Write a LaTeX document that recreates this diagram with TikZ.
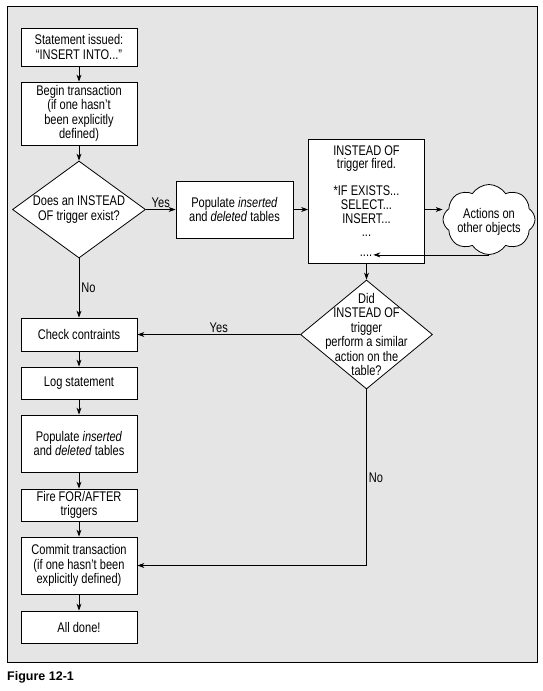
\documentclass[tikz,border=0pt]{standalone}
\usepackage{fontspec}
\setmainfont[FakeStretch=0.79]{Liberation Sans}
\newfontfamily\figfont{Liberation Sans}
\usetikzlibrary{shapes.geometric,shapes.symbols,arrows.meta}
\definecolor{bgc}{RGB}{229,229,229}
\newcommand\dtxt{\fontsize{14}{14.5}\selectfont}
\tikzset{
  box/.style={draw, fill=white, line width=0.8pt, minimum width=116pt, minimum height=#1, inner sep=0pt, align=center, font=\dtxt},
  dia/.style={draw, fill=white, diamond, line width=0.8pt, inner sep=0pt},
  lbl/.style={align=center, font=\dtxt, inner sep=1pt},
  arr/.style={-{Stealth[length=7pt,width=5pt]}, line width=0.8pt},
}
\begin{document}
\begin{tikzpicture}[x=1pt,y=-1pt]
\useasboundingbox (0,0) rectangle (543,691);
\draw[fill=bgc, line width=0.9pt] (7,6) rectangle (537,662);

% left column
\node[box=38pt] (b1) at (79,47) {Statement issued:\\“INSERT INTO...”};
\node[box=63pt] (b2) at (79,113.5) {Begin transaction\\(if one hasn't\\been explicitly\\defined)};
\node[dia, minimum width=133pt, minimum height=97pt] (d1) at (79,209.5) {};
\node[lbl] (d1t) at (d1.center) {Does an INSTEAD\\OF trigger exist?};
\node[box=57pt, minimum width=117pt] (p1) at (234.5,209.5) {Populate \textit{inserted}\\and \textit{deleted} tables};

\node[box=124pt] (ins) at (366.5,201) {};
\node[lbl, font=\fontsize{14}{13.6}\selectfont] (inst) at (366.5,191) {INSTEAD OF\\trigger fired.\\ \\*IF EXISTS...\\SELECT...\\INSERT...\\...};
\node[lbl, anchor=base] (dots) at (366,256) {....};

\node[cloud, draw, fill=white, line width=0.8pt, cloud puffs=8, cloud puff arc=115, aspect=1.26, minimum width=92pt, minimum height=70pt, inner sep=0pt] (cl) at (489,219.5) {};
\node[lbl] (clt) at (489,222) {Actions on\\other objects};

\node[dia, minimum width=132pt, minimum height=109pt] (d2) at (366.5,334.5) {};
\node[lbl] (d2t) at (d2.center) {Did\\INSTEAD OF\\trigger\\perform a similar\\action on the\\table?};

\node[box=33pt] (chk) at (79,334.5) {Check contraints};
\node[box=32pt] (log) at (79,383) {Log statement};
\node[box=57pt] (p2) at (79,443.5) {Populate \textit{inserted}\\and \textit{deleted} tables};
\node[box=32pt] (fire) at (79,505) {Fire FOR/AFTER\\triggers};
\node[box=57pt] (cm) at (79,565.5) {Commit transaction\\(if one hasn't been\\explicitly defined)};
\node[box=32pt] (done) at (79,627) {All done!};

\node[anchor=west, inner sep=0pt, font=\figfont\fontsize{12.5}{14}\selectfont\bfseries] (fig) at (7,677) {Figure 12-1};

% connectors
\draw[arr] (b1) -- (b2);
\draw[arr] (b2) -- (d1);
\draw[arr] (d1.east) -- node[lbl, above] {Yes} (p1.west);
\draw[arr] (d1.south) -- node[lbl, right, xshift=1pt] {No} (chk.north);
\draw[arr] (p1.east) -- (ins.west |- p1.east);
\draw[arr] (ins.east |- p1.east) -- (cl.west |- p1.east);
\draw[arr] (cl.south) -- (cl.south -| dots.base east);
\draw[arr] (ins.south) -- (d2.north);
\draw[arr] (d2.west) -- node[lbl, above] {Yes} (chk.east);
\draw[arr] (d2.south) |- node[lbl, pos=0.25, right, xshift=1pt] {No} (cm.east);
\draw[arr] (chk) -- (log);
\draw[arr] (log) -- (p2);
\draw[arr] (p2) -- (fire);
\draw[arr] (fire) -- (cm);
\draw[arr] (cm) -- (done);
\end{tikzpicture}
\end{document}
